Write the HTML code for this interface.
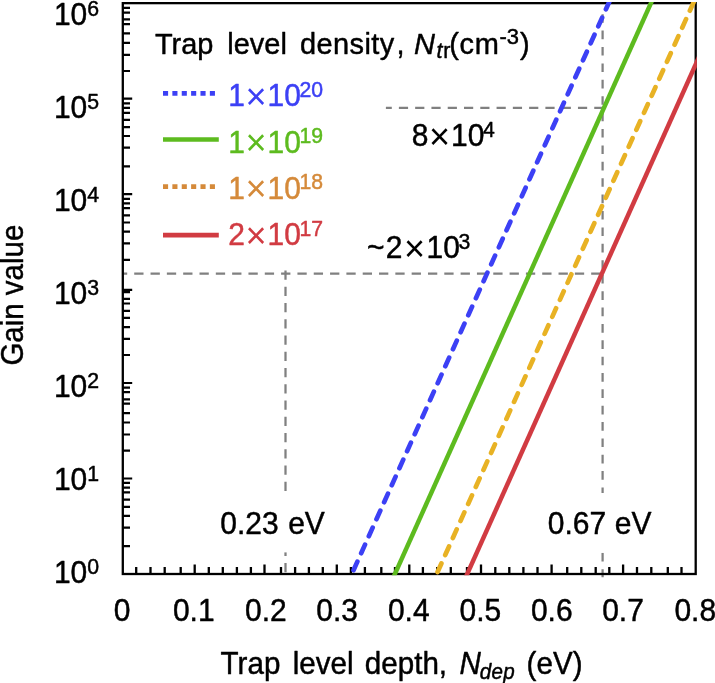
<!DOCTYPE html>
<html lang="en"><head><meta charset="utf-8"><title>Gain value vs trap level depth</title>
<style>html,body{margin:0;padding:0;background:#fff}body{width:715px;height:683px;overflow:hidden}svg{display:block}text{font-family:"Liberation Sans",sans-serif;fill:currentColor;stroke:currentColor;stroke-width:.45px;stroke-linejoin:round;color:#000}.it{font-style:italic}</style>
</head><body>
<svg width="715" height="683" viewBox="0 0 715 683">
<rect x="0" y="0" width="715" height="683" fill="#fff"/>
<defs><clipPath id="pc"><rect x="100" y="2" width="596.9" height="573.2"/></clipPath></defs>
<g stroke="#808080" stroke-width="2.25" fill="none">
<path d="M122.8 273.6H603.6" stroke-dasharray="9.3 7.02" stroke-dashoffset="4.9"/>
<path d="M385.9 107.9H603.6" stroke-dasharray="9.2 7.08" stroke-dashoffset="3.3"/>
<path d="M285.5 270.6V574" stroke-dasharray="9.1 7.15"/>
<path d="M602.6 14.2V270" stroke-dasharray="8.6 7.8"/>
<path d="M602.6 274.9V577.2" stroke-dasharray="8.7 7.65"/>
</g>
<rect x="212" y="493" width="125" height="59.4" fill="#fff"/>
<rect x="540" y="493" width="122" height="59.8" fill="#fff"/>
<rect x="122.8" y="3.15" width="572.9" height="570.85" stroke="#000" stroke-width="2.3" fill="none"/>
<path d="M122.8 98.7H132.2M122.8 194.2H132.2M122.8 289.8H132.2M122.8 383.0H132.2M122.8 478.5H132.2M122.8 7.9H130M122.8 12.6H130M122.8 19.3H130M122.8 24.1H130M122.8 33.4H130M122.8 42.9H130M122.8 54.8H130M122.8 71.0H130M122.8 103.4H130M122.8 107.9H130M122.8 112.8H130M122.8 119.9H130M122.8 127.1H130M122.8 136.0H130M122.8 147.6H130M122.8 166.4H130M122.8 198.8H130M122.8 203.4H130M122.8 208.1H130M122.8 215.3H130M122.8 222.5H130M122.8 231.7H130M122.8 243.3H130M122.8 259.8H130M122.8 292.2H130M122.8 298.8H130M122.8 303.5H130M122.8 310.8H130M122.8 317.8H130M122.8 327.1H130M122.8 338.9H130M122.8 355.0H130M122.8 387.6H130M122.8 392.1H130M122.8 399.3H130M122.8 403.7H130M122.8 413.1H130M122.8 422.5H130M122.8 434.5H130M122.8 450.7H130M122.8 482.9H130M122.8 487.6H130M122.8 492.4H130M122.8 499.6H130M122.8 506.8H130M122.8 515.8H130M122.8 527.6H130M122.8 546.2H130" stroke="#000" stroke-width="2.2" fill="none"/>
<path d="M194.7 574.0V564.4M264.5 574.0V564.4M336.8 574.0V564.4M409.3 574.0V564.4M481.0 574.0V564.4M551.6 574.0V564.4M623.1 574.0V564.4M136.2 574.0V567M150.5 574.0V567M164.7 574.0V567M180.7 574.0V567M208.8 574.0V567M222.8 574.0V567M236.9 574.0V567M250.9 574.0V567M281.0 574.0V567M295.1 574.0V567M308.9 574.0V567M322.8 574.0V567M350.9 574.0V567M364.9 574.0V567M381.3 574.0V567M395.0 574.0V567M422.9 574.0V567M437.2 574.0V567M450.8 574.0V567M467.0 574.0V567M495.3 574.0V567M509.3 574.0V567M523.4 574.0V567M537.5 574.0V567M567.2 574.0V567M581.3 574.0V567M595.7 574.0V567M609.3 574.0V567M637.0 574.0V567M651.3 574.0V567M667.8 574.0V567M681.5 574.0V567" stroke="#000" stroke-width="2.3" fill="none"/>
<g clip-path="url(#pc)">
<path d="M353.51 570.2L614.60 -10" stroke="#3C40F5" stroke-width="4.7" fill="none" stroke-dasharray="9.4 9.24" stroke-linecap="round"/>
<path d="M392.21 580L656.82 -10" stroke="#5DBB1F" stroke-width="4.5" fill="none"/>
<path d="M437.55 572.0L699.16 -10" stroke="#E8B224" stroke-width="4.7" fill="none" stroke-dasharray="9.4 9.248" stroke-linecap="round"/>
<path d="M464.51 580L729.01 -10" stroke="#D13B42" stroke-width="4.5" fill="none"/>
</g>
<text transform="translate(0 24.6) scale(1 1.045)" x="53.9" y="0" font-size="30">10<tspan font-size="21.3" dy="-8.3">6</tspan></text>
<text transform="translate(0 117.7) scale(1 1.045)" x="53.9" y="0" font-size="30">10<tspan font-size="21.3" dy="-8.3">5</tspan></text>
<text transform="translate(0 210.8) scale(1 1.045)" x="53.9" y="0" font-size="30">10<tspan font-size="21.3" dy="-8.3">4</tspan></text>
<text transform="translate(0 303.8) scale(1 1.045)" x="53.9" y="0" font-size="30">10<tspan font-size="21.3" dy="-8.3">3</tspan></text>
<text transform="translate(0 396.9) scale(1 1.045)" x="53.9" y="0" font-size="30">10<tspan font-size="21.3" dy="-8.3">2</tspan></text>
<text transform="translate(0 490.0) scale(1 1.045)" x="53.9" y="0" font-size="30">10<tspan font-size="21.3" dy="-8.3">1</tspan></text>
<text transform="translate(0 583.1) scale(1 1.045)" x="53.9" y="0" font-size="30">10<tspan font-size="21.3" dy="-8.3">0</tspan></text>
<text transform="translate(0 620.8) scale(1 1.045)" x="113.8" y="0" font-size="30">0</text>
<text transform="translate(0 620.8) scale(1 1.045)" x="172.9" y="0" font-size="30">0.1</text>
<text transform="translate(0 620.8) scale(1 1.045)" x="245.0" y="0" font-size="30">0.2</text>
<text transform="translate(0 620.8) scale(1 1.045)" x="316.2" y="0" font-size="30">0.3</text>
<text transform="translate(0 620.8) scale(1 1.045)" x="387.9" y="0" font-size="30">0.4</text>
<text transform="translate(0 620.8) scale(1 1.045)" x="459.6" y="0" font-size="30">0.5</text>
<text transform="translate(0 620.8) scale(1 1.045)" x="530.9" y="0" font-size="30">0.6</text>
<text transform="translate(0 620.8) scale(1 1.045)" x="602.2" y="0" font-size="30">0.7</text>
<text transform="translate(0 620.8) scale(1 1.045)" x="674.4" y="0" font-size="30">0.8</text>
<text transform="translate(0 673.8) scale(1 1.045)" y="0" font-size="29.6"><tspan x="220.6">Trap</tspan><tspan x="292.8">level</tspan><tspan x="364.8">depth,</tspan><tspan x="459.6" class="it">N</tspan><tspan class="it" font-size="20.6" dy="4.8" dx="-1.2" letter-spacing=".3">dep</tspan><tspan x="526.6" dy="-4.8">(eV)</tspan></text>
<text transform="translate(23.0 365.6) rotate(-90) scale(1 1.045)" font-size="29.5">Gain value</text>
<text transform="translate(0 53.6) scale(1 1.045)" y="0" font-size="29"><tspan x="154.9">Trap</tspan><tspan x="227.3">level</tspan><tspan x="300" letter-spacing=".4">density</tspan><tspan x="396.4">,</tspan><tspan x="413.9" class="it">N</tspan><tspan x="436.6" class="it" font-size="21.5" dy="4.6">t</tspan><tspan x="443.2" font-size="21.5">r</tspan><tspan x="449.2" dy="-4.6" letter-spacing=".7">(cm</tspan><tspan x="499.4" font-size="22" dy="-9.4">-3</tspan><tspan x="520" dy="9.4">)</tspan></text>
<path d="M163 93.3H215.1" stroke="#3C40F5" stroke-width="4.8" stroke-dasharray="5.1 4.27" fill="none"/>
<text transform="translate(0 105.8) scale(1 1.045)" y="0" font-size="30.0" style="color:#3C40F5"><tspan x="228.3">1</tspan><tspan x="245.6" dy="2.7" font-size="36.1" stroke-width="0">×</tspan><tspan x="267.5" dy="-2.7">10</tspan><tspan x="299.5" dy="-8.8" font-size="21.2">20</tspan></text>
<path d="M163 139.5H218.8" stroke="#5DBB1F" stroke-width="4.6" fill="none"/>
<text transform="translate(0 152.5) scale(1 1.045)" y="0" font-size="30.0" style="color:#5DBB1F"><tspan x="228.3">1</tspan><tspan x="245.6" dy="2.7" font-size="36.1" stroke-width="0">×</tspan><tspan x="267.5" dy="-2.7">10</tspan><tspan x="299.5" dy="-8.8" font-size="21.2">19</tspan></text>
<path d="M163 186.6H215.1" stroke="#D58A3A" stroke-width="4.8" stroke-dasharray="5.1 4.27" fill="none"/>
<text transform="translate(0 198.6) scale(1 1.045)" y="0" font-size="30.0" style="color:#D58A3A"><tspan x="228.3">1</tspan><tspan x="245.6" dy="2.7" font-size="36.1" stroke-width="0">×</tspan><tspan x="267.5" dy="-2.7">10</tspan><tspan x="299.5" dy="-8.8" font-size="21.2">18</tspan></text>
<path d="M163 235.1H218.8" stroke="#D13B42" stroke-width="4.6" fill="none"/>
<text transform="translate(0 244.8) scale(1 1.045)" y="0" font-size="30.0" style="color:#D13B42"><tspan x="228.3">2</tspan><tspan x="245.6" dy="2.7" font-size="36.1" stroke-width="0">×</tspan><tspan x="267.5" dy="-2.7">10</tspan><tspan x="299.5" dy="-8.8" font-size="21.2">17</tspan></text>
<text transform="translate(0 146.1) scale(1 1.045)" y="0" font-size="30.0"><tspan x="411.8">8</tspan><tspan x="429.1" dy="2.7" font-size="36.1" stroke-width="0">×</tspan><tspan x="451.0" dy="-2.7">10</tspan><tspan x="483.0" dy="-8.8" font-size="21.2">4</tspan></text>
<text transform="translate(0 258.1) scale(1 1.045)" y="0" font-size="30.0"><tspan x="367.0">~</tspan><tspan x="385.7">2</tspan><tspan x="404.0" dy="2.7" font-size="36.1" stroke-width="0">×</tspan><tspan x="426.5" dy="-2.7">10</tspan><tspan x="458.5" dy="-8.8" font-size="21.2">3</tspan></text>
<text transform="translate(0 533.7) scale(1 1.045)" y="0" font-size="30"><tspan x="220.3">0.23</tspan><tspan x="288.2">eV</tspan></text>
<text transform="translate(0 533.7) scale(1 1.045)" y="0" font-size="30"><tspan x="547.7">0.67</tspan><tspan x="614.8">eV</tspan></text>
</svg>
</body></html>
